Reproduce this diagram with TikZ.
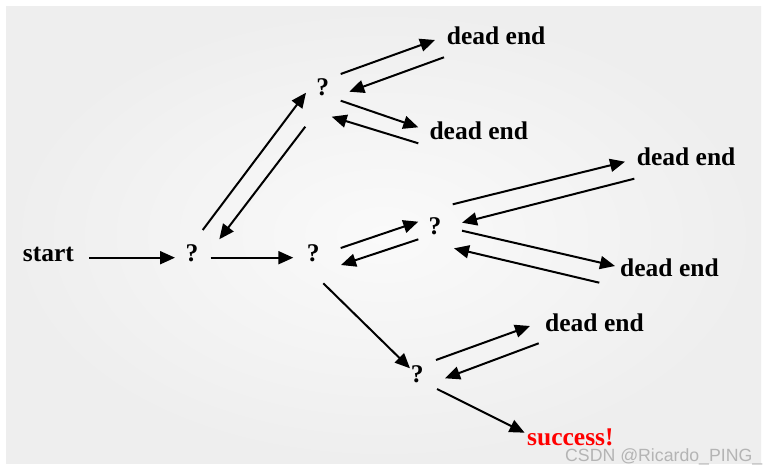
\documentclass[tikz,border=0pt]{standalone}
\usepackage{fontspec}
\setmainfont{Liberation Serif}
\setsansfont{Liberation Sans}
\usetikzlibrary{arrows.meta}
\definecolor{bgin}{HTML}{FAFAFA}
\definecolor{bgout}{HTML}{EEEEEE}
\definecolor{wmark}{HTML}{B4B4B4}
\tikzset{
  lbl/.style={inner sep=0pt, font=\fontsize{25.5}{30}\selectfont\bfseries},
  qn/.style={lbl, anchor=base},
  tn/.style={lbl, anchor=base west},
  arr/.style={line width=2pt, -{Triangle[length=15pt,width=13pt]}}
}
\begin{document}
\begin{tikzpicture}[x=1pt,y=-1pt]
\useasboundingbox (0,0) rectangle (771,468);
\fill[white] (0,0) rectangle (771,468);
\shade[inner color=bgin, outer color=bgout] (6,7) rectangle (761,463);

\node[tn] (start) at (22.7,261.5) {start};
\node[qn] (q1) at (192,261.5) {?};
\node[qn] (q2) at (313.3,261) {?};
\node[qn] (q3) at (322.7,96) {?};
\node[qn] (q4) at (435,234.3) {?};
\node[qn] (q5) at (417.3,382.7) {?};
\node[tn] (de1) at (446.7,45) {dead end};
\node[tn] (de2) at (429.3,139.3) {dead end};
\node[tn] (de3) at (636.7,165) {dead end};
\node[tn] (de4) at (620,276.7) {dead end};
\node[tn] (de5) at (545,331.5) {dead end};
\node[tn, text=red] (succ) at (527,445.5) {success!};
\node[anchor=base west, inner sep=0pt, text=wmark, font=\sffamily\fontsize{17.7}{20}\selectfont] (wm) at (565,461) {CSDN @Ricardo\_PING\_};

\draw[arr] ([shift={(66.6,-3.8)}]start.base west) -- ([shift={(-17,-3.8)}]q1.base);
\draw[arr] ([shift={(18.7,-3.8)}]q1.base) -- ([shift={(-20,-3.3)}]q2.base);
\draw[arr] ([shift={(10.7,-31.5)}]q1.base) -- ([shift={(-16.7,-3.3)}]q3.base);
\draw[arr] ([shift={(-17.4,30.7)}]q3.base) -- ([shift={(27.3,-22.2)}]q1.base);
\draw[arr] ([shift={(18,-22)}]q3.base) -- ([shift={(-11.7,-5)}]de1.base west);
\draw[arr] ([shift={(-2.7,12.3)}]de1.base west) -- ([shift={(26.6,-4.3)}]q3.base);
\draw[arr] ([shift={(18,4.7)}]q3.base) -- ([shift={(-11,-12)}]de2.base west);
\draw[arr] ([shift={(-11,4)}]de2.base west) -- ([shift={(9,20.7)}]q3.base);
\draw[arr] ([shift={(27.4,-13)}]q2.base) -- ([shift={(-16.7,-12.6)}]q4.base);
\draw[arr] ([shift={(-16.7,5)}]q4.base) -- ([shift={(27.7,4)}]q2.base);
\draw[arr] ([shift={(17.7,-30)}]q4.base) -- ([shift={(-11.7,-3.3)}]de3.base west);
\draw[arr] ([shift={(-2.4,13.7)}]de3.base west) -- ([shift={(27,-11.6)}]q4.base);
\draw[arr] ([shift={(27,-3.6)}]q4.base) -- ([shift={(-5,-10.7)}]de4.base west);
\draw[arr] ([shift={(-20.7,6)}]de4.base west) -- ([shift={(19,14)}]q4.base);
\draw[arr] ([shift={(10,22.3)}]q2.base) -- ([shift={(-7.3,-14.4)}]q5.base);
\draw[arr] ([shift={(18.7,-22.7)}]q5.base) -- ([shift={(-15,-5.5)}]de5.base west);
\draw[arr] ([shift={(-6.3,11.8)}]de5.base west) -- ([shift={(27.7,-4.4)}]q5.base);
\draw[arr] ([shift={(19.7,6.3)}]q5.base) -- ([shift={(-2.4,-12.8)}]succ.base west);
\end{tikzpicture}
\end{document}
